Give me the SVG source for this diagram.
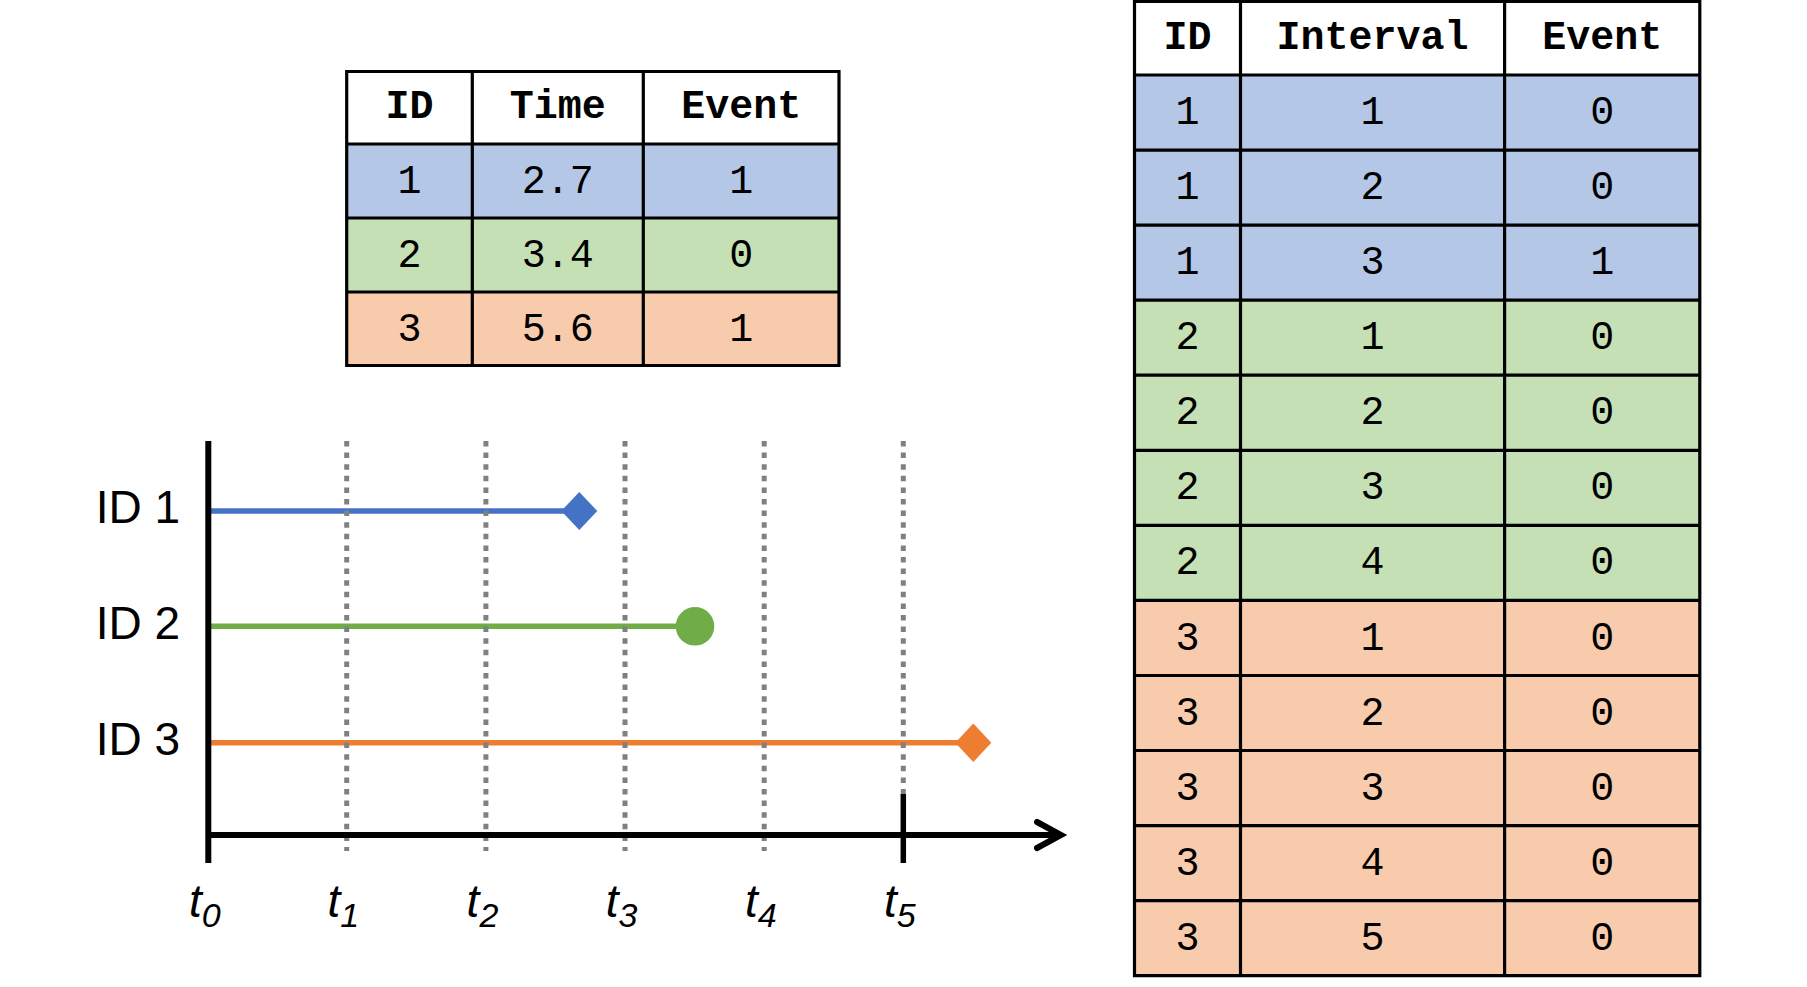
<svg xmlns="http://www.w3.org/2000/svg" width="1807" height="987" viewBox="0 0 1807 987">
<style>
.hd{font-family:"Liberation Mono","Courier New",monospace;font-weight:bold;font-size:40px;fill:#000;text-anchor:middle}
.cd{font-family:"Liberation Mono","Courier New",monospace;font-size:40px;fill:#000;text-anchor:middle}
.grid{stroke:#000;stroke-width:3.2;fill:none;stroke-linecap:square}
.b{fill:#B4C7E7}.g{fill:#C5E0B4}.o{fill:#F8CBAD}.w{fill:#FFFFFF}
.lbl{font-family:"Liberation Sans",Arial,sans-serif;font-size:46px;fill:#000}
.tl{font-family:"Liberation Sans",Arial,sans-serif;font-style:italic;font-size:46px;fill:#000}
.dot{stroke:#808080;stroke-width:5;stroke-dasharray:5.5 6.1;fill:none}
.ax{stroke:#000;stroke-width:6;fill:none}
</style>
<rect width="1807" height="987" fill="#fff"/>

<g id="table-summary">
  <rect class="w" x="346.7" y="71.5" width="492.3" height="72.5"/>
  <rect class="b" x="346.7" y="144" width="492.3" height="74"/>
  <rect class="g" x="346.7" y="218" width="492.3" height="74"/>
  <rect class="o" x="346.7" y="292" width="492.3" height="73.5"/>
  <path class="grid" d="M346.7 71.5H839M346.7 144H839M346.7 218H839M346.7 292H839M346.7 365.5H839M346.7 71.5V365.5M472.3 71.5V365.5M643.3 71.5V365.5M839 71.5V365.5"/>
  <text class="hd" x="409.5" y="118.3">ID</text>
  <text class="hd" x="557.8" y="118.3">Time</text>
  <text class="hd" x="741.2" y="118.3">Event</text>
  <text class="cd" x="409.5" y="192.7">1</text><text class="cd" x="557.8" y="192.7">2.7</text><text class="cd" x="741.2" y="192.7">1</text>
  <text class="cd" x="409.5" y="266.7">2</text><text class="cd" x="557.8" y="266.7">3.4</text><text class="cd" x="741.2" y="266.7">0</text>
  <text class="cd" x="409.5" y="340.5">3</text><text class="cd" x="557.8" y="340.5">5.6</text><text class="cd" x="741.2" y="340.5">1</text>
</g>

<g id="table-intervals">
  <rect class="w" x="1134.5" y="1.5" width="565.3" height="73.5"/>
  <rect class="b" x="1134.5" y="75" width="565.3" height="225.2"/>
  <rect class="g" x="1134.5" y="300.2" width="565.3" height="300.2"/>
  <rect class="o" x="1134.5" y="600.4" width="565.3" height="375.3"/>
  <path class="grid" d="M1134.5 1.5H1699.8M1134.5 75H1699.8M1134.5 150.1H1699.8M1134.5 225.1H1699.8M1134.5 300.2H1699.8M1134.5 375.2H1699.8M1134.5 450.3H1699.8M1134.5 525.4H1699.8M1134.5 600.4H1699.8M1134.5 675.5H1699.8M1134.5 750.5H1699.8M1134.5 825.6H1699.8M1134.5 900.7H1699.8M1134.5 975.7H1699.8M1134.5 1.5V975.7M1240.5 1.5V975.7M1504.6 1.5V975.7M1699.8 1.5V975.7"/>
  <text class="hd" x="1187.5" y="48.5">ID</text>
  <text class="hd" x="1372.6" y="48.5">Interval</text>
  <text class="hd" x="1602.2" y="48.5">Event</text>
  <g class="cd">
    <text class="cd" x="1187.5" y="124">1</text><text class="cd" x="1372.6" y="124">1</text><text class="cd" x="1602.2" y="124">0</text>
    <text class="cd" x="1187.5" y="199.1">1</text><text class="cd" x="1372.6" y="199.1">2</text><text class="cd" x="1602.2" y="199.1">0</text>
    <text class="cd" x="1187.5" y="274.2">1</text><text class="cd" x="1372.6" y="274.2">3</text><text class="cd" x="1602.2" y="274.2">1</text>
    <text class="cd" x="1187.5" y="349.2">2</text><text class="cd" x="1372.6" y="349.2">1</text><text class="cd" x="1602.2" y="349.2">0</text>
    <text class="cd" x="1187.5" y="424.3">2</text><text class="cd" x="1372.6" y="424.3">2</text><text class="cd" x="1602.2" y="424.3">0</text>
    <text class="cd" x="1187.5" y="499.3">2</text><text class="cd" x="1372.6" y="499.3">3</text><text class="cd" x="1602.2" y="499.3">0</text>
    <text class="cd" x="1187.5" y="574.4">2</text><text class="cd" x="1372.6" y="574.4">4</text><text class="cd" x="1602.2" y="574.4">0</text>
    <text class="cd" x="1187.5" y="649.5">3</text><text class="cd" x="1372.6" y="649.5">1</text><text class="cd" x="1602.2" y="649.5">0</text>
    <text class="cd" x="1187.5" y="724.5">3</text><text class="cd" x="1372.6" y="724.5">2</text><text class="cd" x="1602.2" y="724.5">0</text>
    <text class="cd" x="1187.5" y="799.6">3</text><text class="cd" x="1372.6" y="799.6">3</text><text class="cd" x="1602.2" y="799.6">0</text>
    <text class="cd" x="1187.5" y="874.6">3</text><text class="cd" x="1372.6" y="874.6">4</text><text class="cd" x="1602.2" y="874.6">0</text>
    <text class="cd" x="1187.5" y="949.7">3</text><text class="cd" x="1372.6" y="949.7">5</text><text class="cd" x="1602.2" y="949.7">0</text>
  </g>
</g>

<g id="connectors">
  <line x1="208" y1="511" x2="566" y2="511" stroke="#4472C4" stroke-width="5.5"/>
  <line x1="208" y1="626.3" x2="690" y2="626.3" stroke="#70AD47" stroke-width="5.5"/>
  <line x1="208" y1="742.7" x2="960" y2="742.7" stroke="#ED7D31" stroke-width="5.5"/>
</g>

<g id="grid-lines">
  <line class="dot" x1="346.7" y1="441" x2="346.7" y2="851"/>
  <line class="dot" x1="485.9" y1="441" x2="485.9" y2="851"/>
  <line class="dot" x1="625" y1="441" x2="625" y2="851"/>
  <line class="dot" x1="764.2" y1="441" x2="764.2" y2="851"/>
  <line class="dot" x1="903.3" y1="441" x2="903.3" y2="794"/>
</g>

<g id="id1">
  <text class="lbl" x="95.7" y="522.7">ID 1</text>
  <polygon points="561.3,511 579.3,492 597.3,511 579.3,530" fill="#4472C4"/>
</g>
<g id="id2">
  <text class="lbl" x="95.7" y="638.5">ID 2</text>
  <circle cx="695" cy="626.3" r="19.3" fill="#70AD47"/>
</g>
<g id="id3">
  <text class="lbl" x="95.7" y="754.5">ID 3</text>
  <polygon points="955.3,742.7 973.3,723.5 991.3,742.7 973.3,761.9" fill="#ED7D31"/>
</g>

<g id="axes">
  <line class="ax" x1="208.3" y1="441" x2="208.3" y2="863"/>
  <line class="ax" x1="208" y1="835" x2="1061" y2="835"/>
  <polyline class="ax" points="1037,822 1061,835 1037,848" stroke-linecap="round" stroke-linejoin="miter"/>
  <line x1="903.3" y1="794" x2="903.3" y2="863" stroke="#000" stroke-width="5.5"/>
</g>

<g id="tick-labels">
  <text class="tl" x="189" y="917">t<tspan font-size="34" dy="9.5">0</tspan></text>
  <text class="tl" x="327.4" y="917">t<tspan font-size="34" dy="9.5">1</tspan></text>
  <text class="tl" x="466.6" y="917">t<tspan font-size="34" dy="9.5">2</tspan></text>
  <text class="tl" x="605.7" y="917">t<tspan font-size="34" dy="9.5">3</tspan></text>
  <text class="tl" x="744.9" y="917">t<tspan font-size="34" dy="9.5">4</tspan></text>
  <text class="tl" x="884" y="917">t<tspan font-size="34" dy="9.5">5</tspan></text>
</g>
</svg>
